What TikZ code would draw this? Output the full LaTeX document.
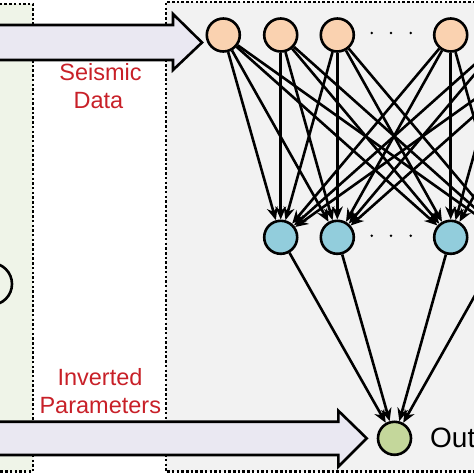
\documentclass[tikz,border=0pt]{standalone}
\usepackage{fontspec}
\setmainfont{Liberation Sans}
\usetikzlibrary{arrows.meta}
\definecolor{greenbg}{RGB}{239,244,232}
\definecolor{graybg}{RGB}{242,242,242}
\definecolor{arrowfill}{RGB}{234,232,242}
\definecolor{peach}{RGB}{250,210,176}
\definecolor{skyblue}{RGB}{146,205,220}
\definecolor{olivegreen}{RGB}{196,215,155}
\definecolor{labelred}{RGB}{200,32,40}
\begin{document}
\begin{tikzpicture}[x=1pt,y=-1pt,
  neuron/.style={circle,draw=black,line width=2.6pt,minimum size=33pt,inner sep=0pt},
  inneuron/.style={neuron,fill=peach},
  hidneuron/.style={neuron,fill=skyblue},
  outneuron/.style={neuron,fill=olivegreen},
  conn/.style={line width=2.6pt,-{Stealth[length=13pt,width=11pt]}},
  border/.style={line width=2.6pt,dash pattern=on 2.5pt off 2.2pt},
  blockarrow/.style={fill=arrowfill,draw=black,line width=2.6pt,line join=miter},
  redlabel/.style={text=labelred,font=\fontsize{23.5}{28}\selectfont,inner sep=0pt,anchor=base},
  dot/.style={circle,fill=black,inner sep=0pt,minimum size=2.8pt}
]
\useasboundingbox (0,0) rectangle (474,474);
\clip (0,0) rectangle (474,474);

% backgrounds
\fill[greenbg] (-5,4) rectangle (33,471.7);
\fill[graybg] (166,2) rectangle (480,471.7);
\draw[border] (-5,4) -- (33,4) -- (33,471.7) -- (-5,471.7);
\draw[border] (480,2) -- (166,2) -- (166,471.7) -- (480,471.7);

% partial shape on the left
\draw[line width=2.6pt] (-9,284) circle[radius=21pt];

% block arrows
\draw[blockarrow] (-5,25) -- (173,25) -- (173,14) -- (202,42.5) -- (173,70) -- (173,60) -- (-5,60);
\draw[blockarrow] (-5,421.7) -- (338.3,421.7) -- (338.3,410.7) -- (366.7,438.3) -- (338.3,466.7) -- (338.3,455) -- (-5,455);

% labels
\node[redlabel] (seisA) at (100.5,80) {Seismic};
\node[redlabel] (seisB) at (98.5,108.3) {Data};
\node[redlabel] (invA) at (100,385.7) {Inverted};
\node[redlabel] (invB) at (100.3,413.3) {Parameters};
\node[font=\fontsize{28}{32}\selectfont,anchor=base west,inner sep=0pt] (outlbl) at (430,447.5) {Out};

% neurons
\node[inneuron] (t1) at (223.3,35) {};
\node[inneuron] (t2) at (280.7,35) {};
\node[inneuron] (t3) at (337.3,35) {};
\node[inneuron] (t4) at (450.7,35) {};
\coordinate (t5) at (507.7,35);
\coordinate (t6) at (565,35);

\node[hidneuron] (m1) at (280.7,237.3) {};
\node[hidneuron] (m2) at (337.3,237.3) {};
\node[hidneuron] (m3) at (450.7,237.3) {};
\coordinate (m4) at (507.7,237.3);

\node[outneuron] (o) at (394.5,438.3) {};

% dots
\node[dot] (dt1) at (371.7,33) {};
\node[dot] (dt2) at (391,33) {};
\node[dot] (dt3) at (410.7,33) {};
\node[dot] (dm1) at (371.7,235.7) {};
\node[dot] (dm2) at (391,235.7) {};
\node[dot] (dm3) at (410.7,235.7) {};

% connections
\foreach \t in {t1,t2,t3,t4,t5,t6}
  \foreach \m in {m1,m2,m3,m4}
    \draw[conn] (\t) -- (\m);
\foreach \m in {m1,m2,m3,m4}
  \draw[conn] (\m) -- (o);
\end{tikzpicture}
\end{document}
